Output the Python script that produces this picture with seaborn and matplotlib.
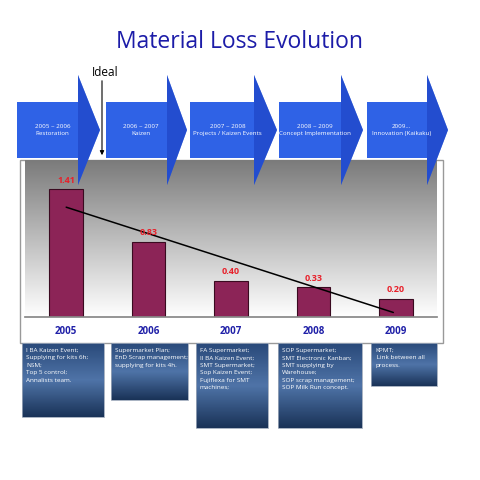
import matplotlib
matplotlib.use("Agg")
import matplotlib.pyplot as plt
import seaborn as sns
import numpy as np
import pandas as pd
from matplotlib.patches import Polygon, Rectangle

years = ["2005", "2006", "2007", "2008", "2009"]
losses = [1.41, 0.83, 0.40, 0.33, 0.20]
loss_labels = ["1.41", "0.83", "0.40", "0.33", "0.20"]
ideal_x = [0, 3.97]
ideal_y = [1.21, 0.05]
phases = ["2005 ~ 2006\nRestoration", "2006 ~ 2007\nKaizen",
          "2007 ~ 2008\nProjects / Kaizen Events", "2008 ~ 2009\nConcept Implementation",
          "2009...\nInnovation (Kaikaku)"]
actions = [
    "I BA Kaizen Event;\nSupplying for kits 6h;\nNSM;\nTop 5 control;\nAnnalists team.",
    "Supermarket Plan;\nEnD Scrap management;\nsupplying for kits 4h.",
    "FA Supermarket;\nII BA Kaizen Event;\nSMT Supermarket;\nSop Kaizen Event;\nFujiflexa for SMT\nmachines;",
    "SOP Supermarket;\nSMT Electronic Kanban;\nSMT supplying by\nWarehouse;\nSOP scrap management;\nSOP Milk Run concept.",
    "KPMT;\n Link between all\nprocess.",
]

sns.set_theme(style="white")
plt.rcParams['font.family'] = ['Open Sans', 'DejaVu Sans']
W = H = 480
fig = plt.figure(figsize=(4.8, 4.8), dpi=100)

def px_axes(z):
    a = fig.add_axes([0, 0, 1, 1], zorder=z)
    a.set_xlim(0, W); a.set_ylim(H, 0); a.axis("off"); a.patch.set_alpha(0)
    return a

bg = px_axes(0)
bg.add_patch(Rectangle((20, 160), 423, 183, facecolor="white", edgecolor="#999999", lw=1))

x0, x1, ytop, ybot = 25, 437, 160, 317
ax = fig.add_axes([x0 / W, 1 - ybot / H, (x1 - x0) / W, (ybot - ytop) / H], zorder=1)
ax.patch.set_alpha(0)
grad = np.linspace(0, 1, 256).reshape(-1, 1)
ax.imshow(grad, cmap=sns.blend_palette(["#7a7a7a", "#ffffff"], as_cmap=True),
          extent=[-0.5, 4.5, 0, 1.73], aspect="auto", origin="upper", zorder=0)
df = pd.DataFrame({"year": years, "loss": losses})
sns.barplot(data=df, x="year", y="loss", color="#8C2457", width=0.41, ax=ax,
            edgecolor="#3a0a20", linewidth=0.8, saturation=1, zorder=2)
for i, (v, lab) in enumerate(zip(losses, loss_labels)):
    ax.text(i, v + 0.05, lab, ha="center", va="bottom", color="#E8202A",
            fontsize=6.5, fontweight="bold", zorder=4)
ax.plot(ideal_x, ideal_y, color="black", lw=1.1, zorder=3)
ax.set_xlim(-0.5, 4.5); ax.set_ylim(0, 1.73)
ax.set_xlabel(""); ax.set_ylabel(""); ax.set_xticks([]); ax.set_yticks([])
for s in ["top", "left", "right"]:
    ax.spines[s].set_visible(False)
ax.spines["bottom"].set_color("#888888")

top = px_axes(2)
fig.text(0.5, 1 - 42 / H, "Material Loss Evolution", ha="center", va="center",
         fontsize=16.5, color="#1C1CA8", zorder=5)

for i, y in enumerate(years):
    cx = x0 + (i + 0.5) * (x1 - x0) / 5
    top.text(cx, 331, y, ha="center", va="center", color="#2020A8",
             fontsize=7, fontweight="bold")

arrows = [(17, 78, 100), (106, 167, 187), (190, 254, 277), (279, 341, 363), (367, 427, 448)]
for (l, h, t), txt in zip(arrows, phases):
    poly = [(l, 102), (h, 102), (h, 75), (t, 130), (h, 185), (h, 158), (l, 158)]
    top.add_patch(Polygon(poly, closed=True, facecolor="#2F62E6", edgecolor="none"))
    top.add_patch(Polygon([(h, 75), (t, 130), (h, 185)], closed=True,
                          facecolor="#1B3FC0", edgecolor="none", alpha=0.6))
    top.text((l + t) / 2 - 6, 130, txt, ha="center", va="center", color="white",
             fontsize=4.5, linespacing=1.5)

top.text(105, 72, "Ideal", ha="center", va="center", fontsize=8.5, color="black")
top.annotate("", xy=(102, 158), xytext=(102, 78),
             arrowprops=dict(arrowstyle="-|>", color="black", lw=0.8, mutation_scale=6))

boxes = [(22, 104, 417), (111, 188, 400), (196, 268, 428), (278, 362, 428), (371, 437, 386)]
for (l, r, b), txt in zip(boxes, actions):
    h = b - 343
    top.imshow(np.linspace(0, 1, 64).reshape(-1, 1),
               cmap=sns.blend_palette(["#2A4A7A", "#4F74A8", "#1A3358"], as_cmap=True),
               extent=[l, r, b, 343], aspect="auto", zorder=1)
    top.add_patch(Rectangle((l, 343), r - l, h, fill=False, edgecolor="#9aa6b8", lw=0.6, zorder=2))
    top.text(l + 4, 348, txt, ha="left", va="top", color="white", fontsize=4.6,
             linespacing=1.6, zorder=3)
top.set_xlim(0, W); top.set_ylim(H, 0)

fig.savefig("out.png", dpi=100)
